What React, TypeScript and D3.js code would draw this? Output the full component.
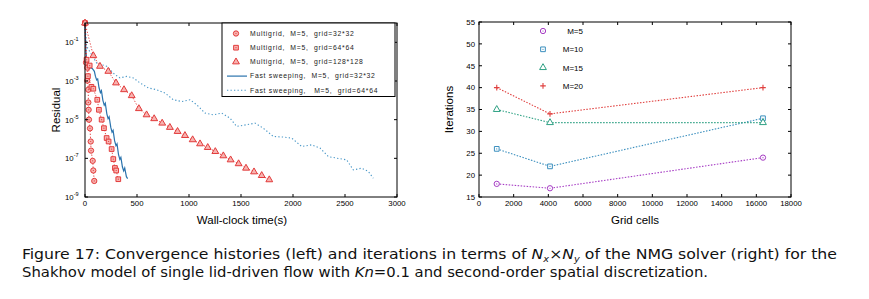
import React from 'react'
import * as d3 from 'd3'

// left panel: wall-clock time (s) vs log10(residual)
const mg32T = [0, 10, 22, 22, 32, 32, 35, 38, 48, 55, 58, 74, 80, 89];
const mg32R = [0, -2.05, -2.31, -2.98, -3.45, -4.11, -4.49, -5.0, -5.45, -6.13, -6.6, -7.13, -7.63, -8.17];
const mg64T = [0, 15, 45, 28, 62, 80, 118, 134, 160, 182, 208, 227, 256, 272, 288, 300, 320];
const mg64R = [0, -1.9, -2.2, -2.75, -3.3, -3.4, -3.97, -4.49, -5.0, -5.44, -5.95, -6.13, -6.52, -7.04, -7.5, -7.63, -8.08];
const mg128T = [0, 80, 144, 224, 298, 375, 449, 518, 592, 665, 742, 816, 890, 961, 1035, 1106, 1180, 1253, 1330, 1400, 1477, 1548, 1625, 1699, 1772];
const mg128R = [0, -1.69, -2.24, -2.5, -3.1, -3.45, -3.76, -4.43, -4.75, -4.95, -5.18, -5.4, -5.61, -5.82, -6.04, -6.25, -6.44, -6.65, -6.87, -7.08, -7.28, -7.51, -7.7, -7.89, -8.11];
const fs32T = [0, 8, 20, 40, 70, 90, 100, 112, 122, 135, 148, 158, 172, 185, 195, 210, 222, 232, 248, 260, 270, 285, 298, 308, 322, 335, 345, 360, 372, 382, 398, 410];
const fs32R = [0, -1.4, -2.1, -2.3, -2.35, -2.5, -2.75, -2.95, -2.9, -3.35, -3.6, -3.5, -4.0, -4.25, -4.15, -4.7, -4.95, -4.85, -5.4, -5.65, -5.55, -6.1, -6.35, -6.25, -6.8, -7.05, -6.95, -7.45, -7.65, -7.5, -7.95, -8.05];
const fs64T = [0, 16, 112, 209, 288, 337, 401, 464, 529, 609, 689, 769, 849, 930, 1010, 1074, 1154, 1234, 1314, 1394, 1458, 1555, 1635, 1714, 1811, 1907, 1987, 2084, 2180, 2260, 2340, 2420, 2516, 2580, 2660, 2724, 2772];
const fs64R = [0, -1.21, -2.07, -2.24, -2.67, -2.84, -2.76, -2.84, -3.1, -3.36, -3.45, -3.62, -3.97, -4.06, -3.97, -4.23, -4.66, -4.75, -4.66, -4.92, -5.35, -5.26, -5.18, -5.44, -5.87, -5.9, -5.95, -6.39, -6.3, -6.47, -6.91, -6.99, -7.08, -7.6, -7.51, -7.68, -8.03];
const leftLegend = [
  'Multigrid,  M=5,  grid=32*32',
  'Multigrid,  M=5,  grid=64*64',
  'Multigrid,  M=5,  grid=128*128',
  'Fast sweeping,  M=5,  grid=32*32',
  'Fast sweeping,   M=5,  grid=64*64',
];
const timeTicks = [0, 500, 1000, 1500, 2000, 2500, 3000];
const resTicks = [-9, -7, -5, -3, -1];

// right panel: grid cells vs iterations
const gridCells = [1024, 4096, 16384];
const itM5 = [18, 17, 24];
const itM10 = [26, 22, 33];
const itM15 = [35, 32, 32];
const itM20 = [40, 34, 40];
const mLabels = ['M=5', 'M=10', 'M=15', 'M=20'];
const cellTicks = [0, 2000, 4000, 6000, 8000, 10000, 12000, 14000, 16000, 18000];
const iterTicks = [15, 20, 25, 30, 35, 40, 45, 50, 55];

const L = { x0: 85, x1: 397, y0: 23, y1: 197 };
const R = { x0: 479, x1: 791, y0: 22, y1: 197 };
const tickFont = 'Liberation Sans, Arial, sans-serif';
const red = '#e23b3b';
const redFill = '#f7b3b0';

const xL = d3.scaleLinear().domain([0, 3000]).range([L.x0, L.x1]);
const yL = d3.scaleLog().domain([1e-9, 1]).range([L.y1, L.y0]);
const xR = d3.scaleLinear().domain([0, 18000]).range([R.x0, R.x1]);
const yR = d3.scaleLinear().domain([15, 55]).range([R.y1, R.y0]);

const toPts = (ts: number[], rs: number[]) => ts.map((t, i) => [t, Math.pow(10, rs[i])] as [number, number]);
const lineL = d3.line<[number, number]>().x(d => xL(d[0])).y(d => yL(d[1]));
const lineR = d3.line<number>().x((_, i) => xR(gridCells[i])).y(d => yR(d));

const sym = (type: d3.SymbolType, size: number) => d3.symbol().type(type).size(size)() as string;

const Marker = ({ kind, x, y, color, fill }: { kind: string; x: number; y: number; color: string; fill: string }) => {
  const t = kind === 'circle' ? d3.symbolCircle : kind === 'square' ? d3.symbolSquare : d3.symbolTriangle;
  const s = kind === 'triangle' ? 20 : 22;
  return (
    <g transform={`translate(${x},${y})`}>
      <path d={sym(t, s)} fill={fill} stroke={color} strokeWidth={1} />
      {kind !== 'triangle' && <circle r={0.6} fill={color} />}
    </g>
  );
};

const PlusMark = ({ x, y, color }: { x: number; y: number; color: string }) => (
  <path d={`M${x - 2.8},${y}H${x + 2.8}M${x},${y - 2.8}V${y + 2.8}`} stroke={color} strokeWidth={1.1} />
);

const Frame = ({ b }: { b: typeof L }) => (
  <rect x={b.x0} y={b.y0} width={b.x1 - b.x0} height={b.y1 - b.y0} fill='none' stroke='#000' strokeWidth={1} />
);

const LeftPanel = () => {
  const mgSeries = [
    { pts: toPts(mg32T, mg32R), kind: 'circle' },
    { pts: toPts(mg64T, mg64R), kind: 'square' },
    { pts: toPts(mg128T, mg128R), kind: 'triangle' },
  ];
  return (
    <g>
      <path d={lineL(toPts(fs64T, fs64R)) as string} fill='none' stroke='#4a98c8' strokeWidth={1.1} strokeDasharray='1.3,2.2' />
      <path d={lineL(toPts(fs32T, fs32R)) as string} fill='none' stroke='#2a73ad' strokeWidth={1.2} />
      {mgSeries.map((s, i) => (
        <g key={i}>
          <path d={lineL(s.pts) as string} fill='none' stroke={red} strokeWidth={1} strokeDasharray='1.2,1.8' />
          {s.pts.map((p, j) => (
            <Marker key={j} kind={s.kind} x={xL(p[0])} y={yL(p[1])} color={red} fill={redFill} />
          ))}
        </g>
      ))}
      <Frame b={L} />
      {timeTicks.map(t => (
        <g key={t}>
          <line x1={xL(t)} x2={xL(t)} y1={L.y1} y2={L.y1 - 3} stroke='#000' />
          <line x1={xL(t)} x2={xL(t)} y1={L.y0} y2={L.y0 + 3} stroke='#000' />
          <text x={xL(t)} y={L.y1 + 9} fontSize={7.8} textAnchor='middle' fontFamily={tickFont}>{t}</text>
        </g>
      ))}
      {resTicks.map(e => (
        <g key={e}>
          <line x1={L.x0} x2={L.x0 + 3} y1={yL(Math.pow(10, e))} y2={yL(Math.pow(10, e))} stroke='#000' />
          <line x1={L.x1} x2={L.x1 - 3} y1={yL(Math.pow(10, e))} y2={yL(Math.pow(10, e))} stroke='#000' />
          <text x={L.x0 - 20} y={yL(Math.pow(10, e)) + 3} fontSize={7.8} fontFamily={tickFont}>
            10<tspan dy={-4} fontSize={5.5}>{e}</tspan>
          </text>
        </g>
      ))}
      <text x={(L.x0 + L.x1) / 2 + 1} y={224} fontSize={11.5} textAnchor='middle' fontFamily={tickFont}>Wall-clock time(s)</text>
      <text transform={`translate(60,${(L.y0 + L.y1) / 2}) rotate(-90)`} fontSize={11.5} textAnchor='middle' fontFamily={tickFont}>Residual</text>
      <rect x={222} y={23} width={173} height={73.5} fill='#fff' stroke='#000' strokeWidth={1} />
      {leftLegend.map((label, i) => {
        const y = 33.5 + i * 14.2;
        return (
          <g key={i}>
            {i < 3 && <Marker kind={['circle', 'square', 'triangle'][i]} x={236} y={y} color={red} fill={redFill} />}
            {i === 3 && <line x1={227} x2={247} y1={y} y2={y} stroke='#2a73ad' strokeWidth={1.2} />}
            {i === 4 && <line x1={227} x2={247} y1={y} y2={y} stroke='#4a98c8' strokeWidth={1.1} strokeDasharray='1.3,2.2' />}
            <text x={250} y={y + 2.3} fontSize={6.8} letterSpacing={0.75} fontFamily={tickFont} fill='#222' style={{ whiteSpace: 'pre' }}>{label}</text>
          </g>
        );
      })}
    </g>
  );
};

const RightPanel = () => {
  const series = [
    { vals: itM5, color: '#a63cc4', kind: 'circle' },
    { vals: itM10, color: '#3b8fbe', kind: 'square' },
    { vals: itM15, color: '#2fa184', kind: 'triangle' },
    { vals: itM20, color: '#e0403f', kind: 'plus' },
  ];
  return (
    <g>
      <Frame b={R} />
      {cellTicks.map(t => (
        <g key={t}>
          <line x1={xR(t)} x2={xR(t)} y1={R.y1} y2={R.y1 - 3} stroke='#000' />
          <line x1={xR(t)} x2={xR(t)} y1={R.y0} y2={R.y0 + 3} stroke='#000' />
          <text x={xR(t)} y={R.y1 + 9} fontSize={7.8} textAnchor='middle' fontFamily={tickFont}>{t}</text>
        </g>
      ))}
      {iterTicks.map(t => (
        <g key={t}>
          <line x1={R.x0} x2={R.x0 + 3} y1={yR(t)} y2={yR(t)} stroke='#000' />
          <line x1={R.x1} x2={R.x1 - 3} y1={yR(t)} y2={yR(t)} stroke='#000' />
          <text x={R.x0 - 4} y={yR(t) + 2.8} fontSize={7.8} textAnchor='end' fontFamily={tickFont}>{t}</text>
        </g>
      ))}
      {series.map((s, i) => (
        <g key={i}>
          <path d={lineR(s.vals) as string} fill='none' stroke={s.color} strokeWidth={1.1} strokeDasharray='1.5,1.5' />
          {s.vals.map((v, j) =>
            s.kind === 'plus'
              ? <PlusMark key={j} x={xR(gridCells[j])} y={yR(v)} color={s.color} />
              : <Marker key={j} kind={s.kind} x={xR(gridCells[j])} y={yR(v)} color={s.color} fill='#fff' />
          )}
          {s.kind === 'plus'
            ? <PlusMark x={543} y={31 + i * 18.3} color={s.color} />
            : <Marker kind={s.kind} x={543} y={31 + i * 18.3} color={s.color} fill='#fff' />}
          <text x={583} y={31 + i * 18.3 + 3} fontSize={8} textAnchor='end' fontFamily={tickFont}>{mLabels[i]}</text>
        </g>
      ))}
      <text x={(R.x0 + R.x1) / 2} y={224} fontSize={11.5} textAnchor='middle' fontFamily={tickFont}>Grid cells</text>
      <text transform={`translate(453,${(R.y0 + R.y1) / 2}) rotate(-90)`} fontSize={11.5} textAnchor='middle' fontFamily={tickFont}>Iterations</text>
    </g>
  );
};

const capFont = 'DejaVu Sans Condensed, Liberation Sans, sans-serif';

const Caption = () => (
  <g fontFamily={capFont} fontSize={14.5} fill='#111'>
    <text x={22} y={259} textLength={815} lengthAdjust='spacingAndGlyphs'>
      Figure 17: Convergence histories (left) and iterations in terms of{' '}
      <tspan fontStyle='italic'>N</tspan><tspan fontSize={9} dy={3} fontStyle='italic'>x</tspan>
      <tspan dy={-3}>×</tspan>
      <tspan fontStyle='italic'>N</tspan><tspan fontSize={9} dy={3} fontStyle='italic'>y</tspan>
      <tspan dy={-3}> of the NMG solver (right) for the</tspan>
    </text>
    <text x={22} y={277} textLength={686} lengthAdjust='spacingAndGlyphs'>
      Shakhov model of single lid-driven flow with <tspan fontStyle='italic'>Kn</tspan>=0.1 and second-order spatial discretization.
    </text>
  </g>
);

export default function App() {
  return (
    <svg width={869} height={299} style={{ position: 'absolute', left: 0, top: 0, background: '#fff' }}>
      <rect width={869} height={299} fill='#fff' />
      <LeftPanel />
      <RightPanel />
      <Caption />
    </svg>
  );
}
